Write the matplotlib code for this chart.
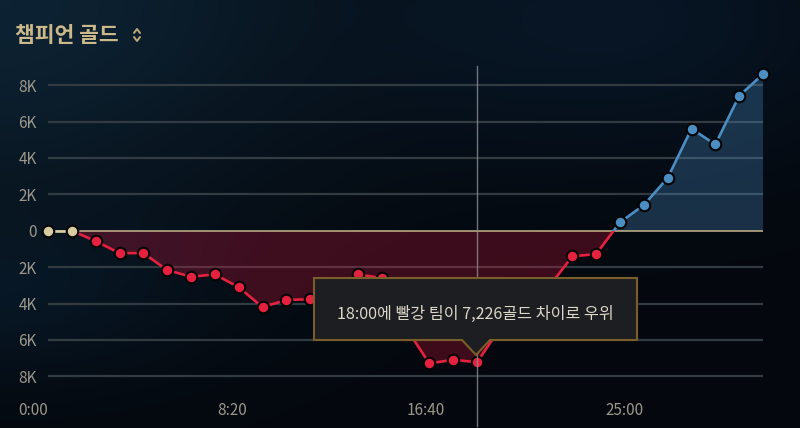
import numpy as np
import matplotlib
matplotlib.use("Agg")
import matplotlib.pyplot as plt
from matplotlib.patches import Polygon, Rectangle
from matplotlib.lines import Line2D
import matplotlib.transforms as mtransforms

plt.rcParams['font.family'] = ['Noto Sans CJK KR', 'DejaVu Sans']

# ---------------- data ----------------
minutes = list(range(31))
gold_diff = [0, 0, -570, -1230, -1230, -2160, -2530, -2400, -3100, -4200,
             -3800, -3770, -3300, -2400, -2600, -5300, -7290, -7090, -7226, -5300,
             -2950, -3100, -1410, -1280, 460, 1410, 2900, 5600, 4740, 7410, 8600]
y_ticks = [-8000, -6000, -4000, -2000, 0, 2000, 4000, 6000, 8000]
y_tick_labels = ['8K', '6K', '4K', '2K', '0', '2K', '4K', '6K', '8K']
x_ticks = [0, 25 / 3, 50 / 3, 25]
x_tick_labels = ['0:00', '8:20', '16:40', '25:00']
title = '챔피언 골드'
hover_minute = 18

W, H = 800, 428
fig = plt.figure(figsize=(W / 100, H / 100), dpi=100)

# background gradient
bg = fig.add_axes([0, 0, 1, 1], zorder=-10)
yy, xx = np.mgrid[0:H, 0:W].astype(float)
base = np.array([4, 8, 14], float)
glow1 = np.exp(-((xx / 330) ** 2 + (yy / 230) ** 2))[..., None] * np.array([9, 26, 36])
glow2 = np.exp(-(((xx - 620) / 260) ** 2 + ((yy - 20) / 140) ** 2))[..., None] * np.array([3, 13, 22])
glow3 = np.exp(-(((xx - 0) / 200) ** 2 + ((yy - 300) / 80) ** 2))[..., None] * np.array([2, 10, 16])
img = np.clip(base + glow1 + glow2 + glow3, 0, 255) / 255.0
bg.imshow(img, extent=[0, 1, 0, 1], aspect='auto', origin='upper')
bg.axis('off')

def px2fig(x, y):
    return x / W, 1 - y / H

# main axes
ax_left, ax_right, ax_top, ax_bot = 48, 763, 66, 390
ax = fig.add_axes([ax_left / W, 1 - ax_bot / H, (ax_right - ax_left) / W, (ax_bot - ax_top) / H])
ax.set_facecolor('none')
for s in ax.spines.values():
    s.set_visible(False)
ax.set_xlim(0, 30)
ax.set_ylim(-8750, 9050)

grid_col = '#333b42'
for t in y_ticks:
    if t != 0:
        ax.axhline(t, color=grid_col, lw=1.6, zorder=1)
ax.axhline(0, color='#c9b68c', lw=1.1, zorder=3)

x = np.array(minutes, float)
y = np.array(gold_diff, float)

red = '#e6213f'
blue = '#4a8ec4'
beige = '#d8cba0'

# fills
ax.fill_between(x[1:], y[1:], 0, where=y[1:] <= 0, interpolate=True,
                color='#d4143c', alpha=0.28, lw=0, zorder=2)
ax.fill_between(x[1:], y[1:], 0, where=y[1:] >= 0, interpolate=True,
                color='#4a8cc4', alpha=0.30, lw=0, zorder=2)

# hover vertical line
trans = mtransforms.blended_transform_factory(ax.transData, fig.transFigure)
fig.add_artist(Line2D([hover_minute, hover_minute], [1 - 426 / H, 1 - 66 / H],
                      transform=trans, color='#8a8f94', lw=1.0, alpha=0.8, zorder=2.5))

# lines clipped above / below zero
lr, = ax.plot(x[1:], y[1:], color=red, lw=1.9, zorder=4)
lr.set_clip_path(Rectangle((-1, -20000), 40, 20000, transform=ax.transData))
lb, = ax.plot(x[1:], y[1:], color=blue, lw=1.9, zorder=4)
lb.set_clip_path(Rectangle((-1, 0), 40, 20000, transform=ax.transData))
ax.plot(x[:2], y[:2], color=beige, lw=1.9, zorder=4, clip_on=False)

# markers
neg = y < 0
pos = y > 0
zer = y == 0
mk = dict(marker='o', ms=8.3, mec='#050505', mew=1.5, ls='none', zorder=5, clip_on=False)
ax.plot(x[neg], y[neg], mfc=red, **mk)
ax.plot(x[pos], y[pos], mfc=blue, **mk)
ax.plot(x[zer], y[zer], mfc=beige, **mk)

# ticks
ax.set_yticks(y_ticks)
ax.set_yticklabels(y_tick_labels)
ax.set_xticks(x_ticks)
ax.set_xticklabels(x_tick_labels)
ax.tick_params(axis='both', length=0, labelcolor='#9c978a', labelsize=11)
ax.tick_params(axis='y', pad=8)
ax.tick_params(axis='x', pad=8.5)
for lbl in ax.get_xticklabels():
    lbl.set_horizontalalignment('right')

# title
fig.text(*px2fig(15, 35), title, fontsize=15.5, fontweight='bold', color='#cbb98c',
         va='center', ha='left')
# sort icon chevrons
for (ya, yb) in [(33, 29), (37, 41)]:
    xs = [134 / W, 137 / W, 140 / W]
    ys = [1 - ya / H, 1 - yb / H, 1 - ya / H]
    fig.add_artist(Line2D(xs, ys, color='#bfa977', lw=1.4, solid_capstyle='round'))

# tooltip
hx = 476
pts = [(314, 278), (637, 278), (637, 340), (hx + 14, 340), (hx, 355), (hx - 14, 340), (314, 340)]
poly = Polygon([px2fig(a, b) for a, b in pts], closed=True, transform=fig.transFigure,
               facecolor='#1d1e21', edgecolor='#7a5e2a', lw=1.5, zorder=20)
fig.add_artist(poly)
val = abs(gold_diff[hover_minute])
tip = f'{hover_minute}:00에 빨강 팀이 {val:,}골드 차이로 우위'
t = fig.text(*px2fig(475, 314), tip, fontsize=11.6, color='#dcd7c8', ha='center', va='center', zorder=21)

fig.savefig('out.png', dpi=100, facecolor='#05090f')
